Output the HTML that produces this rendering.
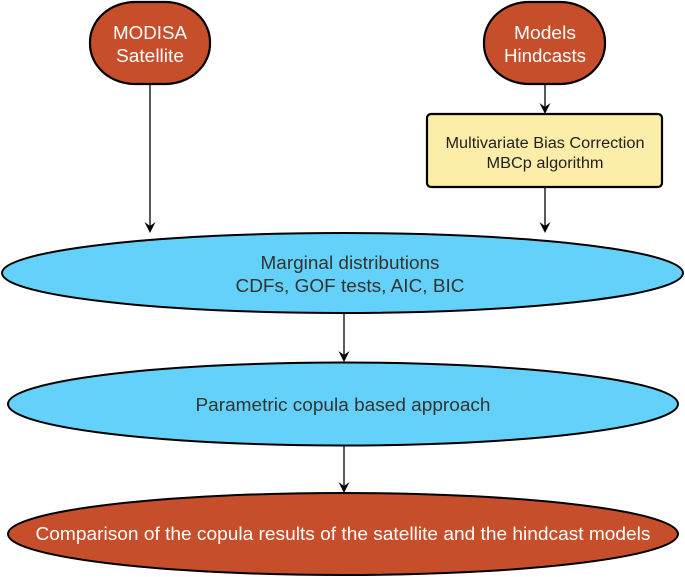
<!DOCTYPE html>
<html><head><meta charset="utf-8"><style>
html,body{margin:0;padding:0;background:#fff;}
svg{display:block;}
text{font-family:"Liberation Sans",Arial,sans-serif;}
</style></head><body>
<svg width="685" height="577" viewBox="0 0 685 577" xmlns="http://www.w3.org/2000/svg">
<g stroke="#000" stroke-width="1.3">
<line x1="150" y1="84" x2="150" y2="230"/>
<line x1="545" y1="84" x2="545" y2="111"/>
<line x1="545" y1="187" x2="545" y2="230"/>
<line x1="344" y1="313" x2="344" y2="359"/>
<line x1="344" y1="445" x2="344" y2="490"/>
</g>
<g fill="#000">
<path d="M144.5,222 L150,233 L155.5,222 L150,226 Z"/>
<path d="M539.5,103 L545,114 L550.5,103 L545,107 Z"/>
<path d="M539.5,222 L545,233 L550.5,222 L545,226 Z"/>
<path d="M338.5,351 L344,362 L349.5,351 L344,355 Z"/>
<path d="M338.5,482 L344,493 L349.5,482 L344,486 Z"/>
</g>
<rect x="90" y="2" width="120" height="82" rx="45" ry="40" fill="#C74E2A" stroke="#000" stroke-width="2.2"/>
<rect x="484" y="2" width="121" height="82" rx="45" ry="40" fill="#C74E2A" stroke="#000" stroke-width="2.2"/>
<text x="150" y="39" font-size="18" fill="#fff" text-anchor="middle" textLength="74" lengthAdjust="spacingAndGlyphs">MODISA</text>
<text x="150" y="62" font-size="18" fill="#fff" text-anchor="middle" textLength="68" lengthAdjust="spacingAndGlyphs">Satellite</text>
<text x="545" y="39" font-size="18" fill="#fff" text-anchor="middle" textLength="62" lengthAdjust="spacingAndGlyphs">Models</text>
<text x="545" y="62" font-size="18" fill="#fff" text-anchor="middle" textLength="82" lengthAdjust="spacingAndGlyphs">Hindcasts</text>
<rect x="427" y="114" width="235" height="73" rx="4" fill="#FCEDA8" stroke="#000" stroke-width="2.2"/>
<text x="545" y="148" font-size="15.5" fill="#222" text-anchor="middle" textLength="199" lengthAdjust="spacingAndGlyphs">Multivariate Bias Correction</text>
<text x="545" y="168" font-size="15.5" fill="#222" text-anchor="middle" textLength="117" lengthAdjust="spacingAndGlyphs">MBCp algorithm</text>
<ellipse cx="342.5" cy="273" rx="340.5" ry="40" fill="#63D1F9" stroke="#000" stroke-width="2"/>
<text x="350" y="269" font-size="18" fill="#333" text-anchor="middle" textLength="179" lengthAdjust="spacingAndGlyphs">Marginal distributions</text>
<text x="350" y="292" font-size="18" fill="#333" text-anchor="middle" textLength="229" lengthAdjust="spacingAndGlyphs">CDFs, GOF tests, AIC, BIC</text>
<ellipse cx="343" cy="404" rx="335" ry="41.5" fill="#63D1F9" stroke="#000" stroke-width="2"/>
<text x="343" y="411" font-size="18" fill="#333" text-anchor="middle" textLength="295" lengthAdjust="spacingAndGlyphs">Parametric copula based approach</text>
<ellipse cx="343" cy="534" rx="335" ry="41" fill="#C74E2A" stroke="#000" stroke-width="2"/>
<text x="343" y="540" font-size="18.5" fill="#fff" text-anchor="middle" textLength="615" lengthAdjust="spacingAndGlyphs">Comparison of the copula results of the satellite and the hindcast models</text>
</svg>
</body></html>
